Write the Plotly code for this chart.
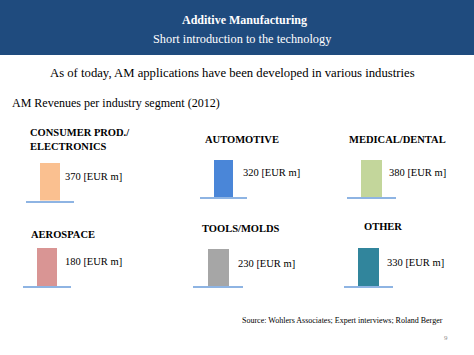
import plotly.graph_objects as go

# ---- data ----
segments = ["CONSUMER PROD./<br>ELECTRONICS", "AUTOMOTIVE", "MEDICAL/DENTAL",
            "AEROSPACE", "TOOLS/MOLDS", "OTHER"]
revenues = [370, 320, 380, 180, 230, 330]
unit = "[EUR m]"
bar_colors = ["#FAC090", "#4A86D8", "#C3D69B", "#D99594", "#A6A6A6", "#31859C"]

W, H = 474, 355
FONT = "Liberation Serif, Times New Roman, serif"

# panel geometry in pixels: (axis line x0, x1, bar top y, baseline y)
panels = [(26, 74, 163, 200.5), (200, 247, 160, 197), (347, 396, 160, 197),
          (23, 71, 248, 286), (193, 243, 249, 286), (344, 393, 248, 286)]
title_pos = [(28, 140, "left"), (203, 140, "left"), (347, 140, "left"),
             (29, 234, "left"), (200, 228, "left"), (362, 226, "left")]
label_pos = [(63, 176), (241, 172), (387, 172), (63, 261), (236, 263), (385, 262)]

def px(x):
    return x / W

def py(y):
    return 1 - y / H

fig = go.Figure()
layout = dict(width=W, height=H, margin=dict(l=0, r=0, t=0, b=0),
              paper_bgcolor="white", plot_bgcolor="rgba(0,0,0,0)",
              showlegend=False, bargap=0, font=dict(family=FONT, color="black"))

for i, (seg, val, col) in enumerate(zip(segments, revenues, bar_colors)):
    n = "" if i == 0 else str(i + 1)
    fig.add_trace(go.Bar(x=[seg], y=[val], marker=dict(color=col, line=dict(width=0)),
                         width=[0.42], xaxis="x" + n, yaxis="y" + n,
                         hoverinfo="skip"))
    x0, x1, yt, yb = panels[i]
    layout["xaxis" + n] = dict(domain=[px(x0), px(x1)], anchor="y" + n,
                               showticklabels=False, ticks="", showgrid=False,
                               zeroline=False, showline=True, linecolor="#8EB4E3",
                               linewidth=1.5, range=[-0.5, 0.5], fixedrange=True)
    layout["yaxis" + n] = dict(domain=[py(yb), py(yt)], anchor="x" + n,
                               range=[0, val], visible=False, fixedrange=True)

layout["shapes"] = [dict(type="rect", xref="paper", yref="paper", x0=0, x1=1,
                         y0=py(55), y1=1, fillcolor="#1F4B7E", line=dict(width=0),
                         layer="below")]

ann = []
ann.append(dict(text="<b>Additive Manufacturing</b>", x=px(244), y=py(20),
                font=dict(size=12, color="white")))
ann.append(dict(text="Short introduction to the technology", x=px(243), y=py(39),
                font=dict(size=12.3, color="white")))
ann.append(dict(text="As of today, AM applications have been developed in various industries",
                x=px(232), y=py(73), font=dict(size=12.7)))
ann.append(dict(text="AM Revenues per industry segment (2012)", x=px(10), y=py(103),
                xanchor="left", font=dict(size=12)))
for i, seg in enumerate(segments):
    tx, ty, xa = title_pos[i]
    ann.append(dict(text="<b>" + seg + "</b>", x=px(tx), y=py(ty), xanchor=xa,
                    align="left", font=dict(size=10.5)))
    lx, ly = label_pos[i]
    ann.append(dict(text=f"{revenues[i]} {unit}", x=px(lx), y=py(ly), xanchor="left",
                    font=dict(size=10.5)))
ann.append(dict(text="Source: Wohlers Associates; Expert interviews; Roland Berger",
                x=px(240), y=py(320), xanchor="left", font=dict(size=8)))
ann.append(dict(text="9", x=px(446), y=py(338), xanchor="center",
                font=dict(size=7, color="#8C8C8C")))
for a in ann:
    a.setdefault("xanchor", "center")
    a.update(xref="paper", yref="paper", yanchor="middle", showarrow=False)
layout["annotations"] = ann

fig.update_layout(**layout)
fig.write_html("out.html", config={"displayModeBar": False},
               post_script="document.body.style.margin='0';document.body.style.padding='0';")
